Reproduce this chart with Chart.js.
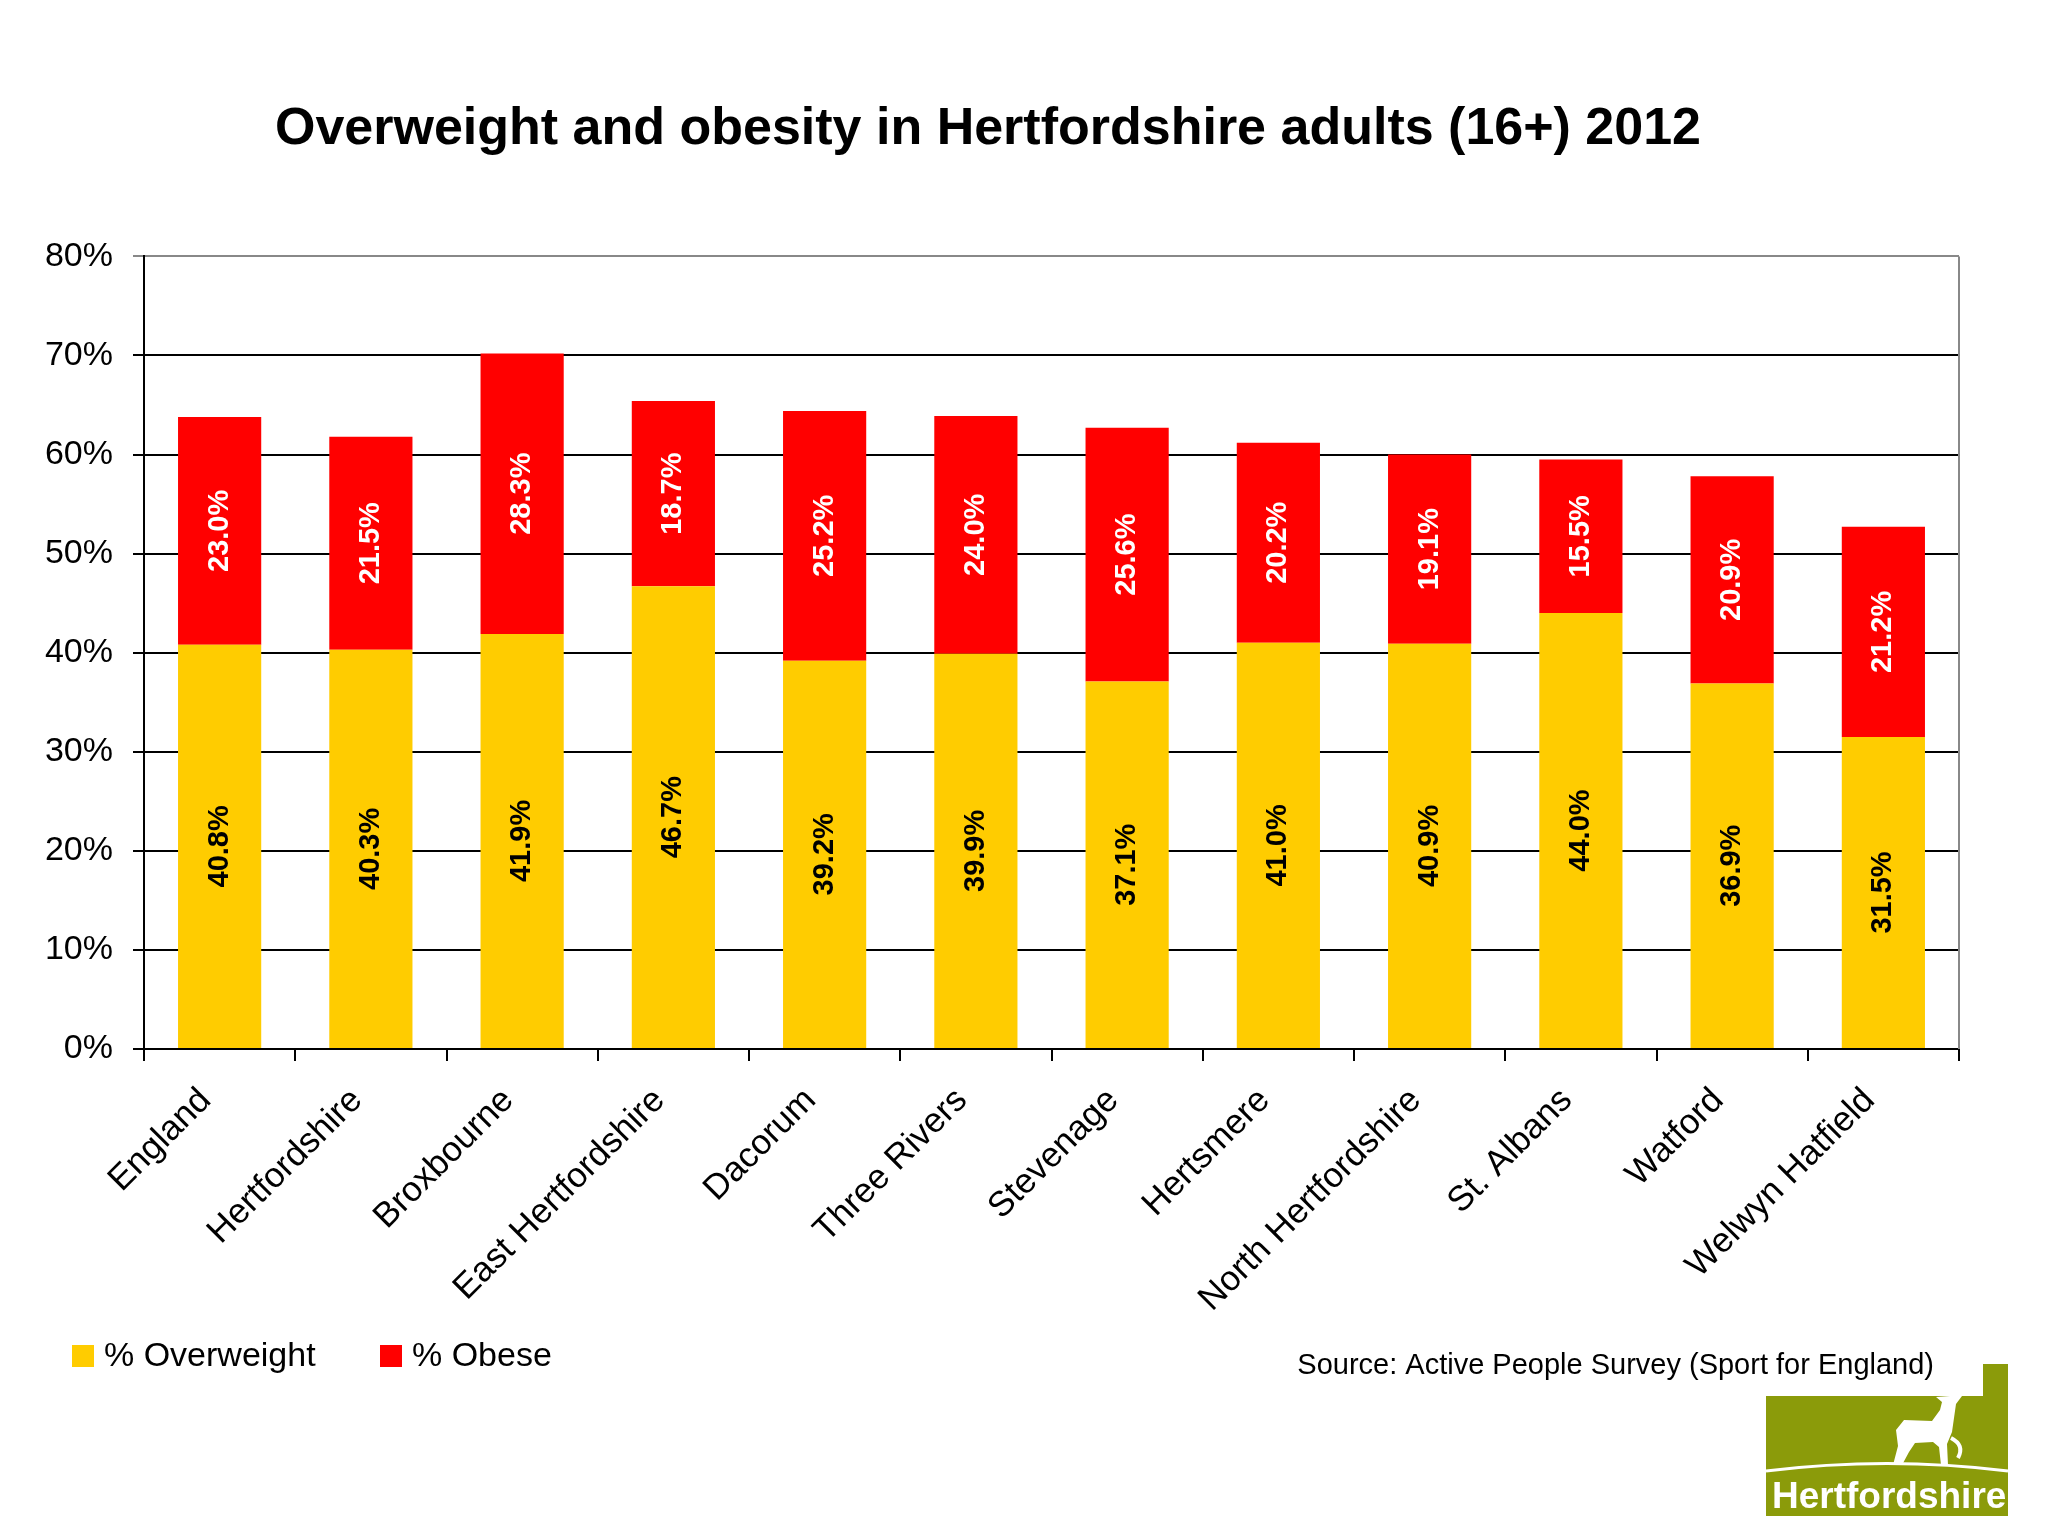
<!DOCTYPE html>
<html>
<head>
<meta charset="utf-8">
<title>Overweight and obesity in Hertfordshire adults (16+) 2012</title>
<script src="https://cdn.jsdelivr.net/npm/chart.js@4.4.1/dist/chart.umd.min.js"></script>
<style>
  html, body { margin: 0; padding: 0; background: #fff; }
  #chart { display: block; }
</style>
</head>
<body>
<canvas id="chart" width="2048" height="1536"></canvas>
<script>
const areas = [
  "England", "Hertfordshire", "Broxbourne", "East Hertfordshire", "Dacorum",
  "Three Rivers", "Stevenage", "Hertsmere", "North Hertfordshire", "St. Albans",
  "Watford", "Welwyn Hatfield",
];
const overweight = [40.8, 40.3, 41.9, 46.7, 39.2, 39.9, 37.1, 41.0, 40.9, 44.0, 36.9, 31.5];
const obese = [23.0, 21.5, 28.3, 18.7, 25.2, 24.0, 25.6, 20.2, 19.1, 15.5, 20.9, 21.2];
const yTicks = [0, 10, 20, 30, 40, 50, 60, 70, 80];

const FONT = "'Liberation Sans', Arial, Helvetica, sans-serif";

// labels inside the bars, turned on their side
const barLabels = {
  id: "barLabels",
  afterDatasetsDraw(chart) {
    const ctx = chart.ctx;
    chart.data.datasets.forEach((ds, i) => {
      const meta = chart.getDatasetMeta(i);
      meta.data.forEach((bar, j) => {
        const cy = (bar.y + bar.base) / 2;
        ctx.save();
        ctx.translate(bar.x, cy);
        ctx.rotate(-Math.PI / 2);
        ctx.font = "bold 29px " + FONT;
        ctx.fillStyle = i === 0 ? "#000" : "#fff";
        ctx.textAlign = "center";
        ctx.textBaseline = "middle";
        ctx.fillText(ds.data[j].toFixed(1) + "%", 0, 0);
        ctx.restore();
      });
    });
  },
};

// legend boxes under the axis labels (the built-in one would clip the rotated labels)
const legendRow = {
  id: "legendRow",
  afterDraw(chart) {
    const ctx = chart.ctx;
    const xs = [72, 380];
    ctx.save();
    ctx.font = "34px " + FONT;
    ctx.textBaseline = "middle";
    ctx.textAlign = "left";
    chart.data.datasets.forEach((ds, i) => {
      ctx.fillStyle = ds.backgroundColor;
      ctx.fillRect(xs[i], 1345, 22, 22);
      ctx.fillStyle = "#000";
      ctx.fillText(ds.label, xs[i] + 32, 1357);
    });
    ctx.restore();
  },
};

// right border of the plot, source note and the county logo
const extras = {
  id: "extras",
  beforeDatasetsDraw(chart) {
    const { ctx, chartArea } = chart;
    ctx.save();
    ctx.strokeStyle = "#888";
    ctx.lineWidth = 2;
    ctx.beginPath();
    ctx.moveTo(chartArea.right, chartArea.top);
    ctx.lineTo(chartArea.right, chartArea.bottom);
    ctx.stroke();
    ctx.restore();
  },
  afterDraw(chart) {
    const ctx = chart.ctx;
    ctx.save();
    ctx.font = "29px " + FONT;
    ctx.fillStyle = "#000";
    ctx.textAlign = "right";
    ctx.textBaseline = "middle";
    ctx.fillText("Source: Active People Survey (Sport for England)", 1934, 1366);

    // logo
    ctx.fillStyle = "#8b9b0a";
    ctx.fillRect(1766, 1396, 242, 120);
    ctx.fillRect(1983, 1364, 25, 34);

    ctx.strokeStyle = "#fff";
    ctx.lineWidth = 3;
    ctx.beginPath();
    ctx.moveTo(1766, 1471);
    ctx.quadraticCurveTo(1887, 1456, 2008, 1471);
    ctx.stroke();

    // stag
    ctx.fillStyle = "#fff";
    ctx.beginPath();
    ctx.moveTo(1893, 1465);
    ctx.lineTo(1898, 1446);
    ctx.lineTo(1896, 1430);
    ctx.lineTo(1904, 1420);
    ctx.lineTo(1932, 1421);
    ctx.lineTo(1940, 1410);
    ctx.lineTo(1942, 1402);
    ctx.lineTo(1936, 1397);
    ctx.lineTo(1950, 1396);
    ctx.lineTo(1962, 1396);
    ctx.lineTo(1956, 1404);
    ctx.lineTo(1954, 1418);
    ctx.lineTo(1952, 1432);
    ctx.lineTo(1947, 1444);
    ctx.lineTo(1948, 1465);
    ctx.lineTo(1941, 1465);
    ctx.lineTo(1939, 1447);
    ctx.lineTo(1933, 1442);
    ctx.lineTo(1915, 1443);
    ctx.lineTo(1909, 1452);
    ctx.lineTo(1902, 1465);
    ctx.closePath();
    ctx.fill();
    ctx.beginPath();
    ctx.moveTo(1951, 1438);
    ctx.quadraticCurveTo(1965, 1445, 1958, 1458);
    ctx.lineWidth = 4;
    ctx.stroke();

    ctx.font = "bold 37px " + FONT;
    ctx.fillStyle = "#fff";
    ctx.textAlign = "left";
    ctx.textBaseline = "alphabetic";
    ctx.fillText("Hertfordshire", 1772, 1508);
    ctx.restore();
  },
};

const ctx = document.getElementById("chart").getContext("2d");

new Chart(ctx, {
  type: "bar",
  data: {
    labels: areas,
    datasets: [
      {
        label: "% Overweight",
        data: overweight,
        backgroundColor: "#ffcc00",
        borderWidth: 0,
      },
      {
        label: "% Obese",
        data: obese,
        backgroundColor: "#ff0000",
        borderWidth: 0,
      },
    ],
  },
  options: {
    responsive: false,
    devicePixelRatio: 1,
    animation: false,
    categoryPercentage: 1,
    barPercentage: 0.55,
    layout: {
      padding: { left: 17, right: 89, top: 0, bottom: 0 },
    },
    plugins: {
      title: {
        display: true,
        text: "Overweight and obesity in Hertfordshire adults (16+) 2012",
        color: "#000",
        font: { family: FONT, size: 52, weight: "bold" },
        padding: { top: 98, bottom: 96 },
      },
      legend: { display: false },
      tooltip: { enabled: false },
    },
    scales: {
      x: {
        stacked: true,
        afterFit: (s) => { s.height = 487; },
        grid: {
          offset: true,
          drawOnChartArea: false,
          drawTicks: true,
          tickLength: 12,
          color: "#000",
          lineWidth: 2,
        },
        border: { color: "#000", width: 2 },
        ticks: {
          autoSkip: false,
          maxRotation: 45,
          minRotation: 45,
          padding: 19,
          labelOffset: -14,
          color: "#000",
          font: { family: FONT, size: 35 },
        },
      },
      y: {
        stacked: true,
        min: 0,
        max: 80,
        afterFit: (s) => { s.width = 127; },
        afterBuildTicks: (s) => { s.ticks = yTicks.map((v) => ({ value: v })); },
        grid: {
          color: (c) => (c.tick && c.tick.value === 80 ? "#888" : "#000"),
          lineWidth: 2,
          tickLength: 11,
        },
        border: { color: "#000", width: 2 },
        ticks: {
          padding: 20,
          color: "#000",
          font: { family: FONT, size: 34 },
          callback: (v) => v + "%",
        },
      },
    },
  },
  plugins: [barLabels, legendRow, extras],
});
</script>
</body>
</html>
